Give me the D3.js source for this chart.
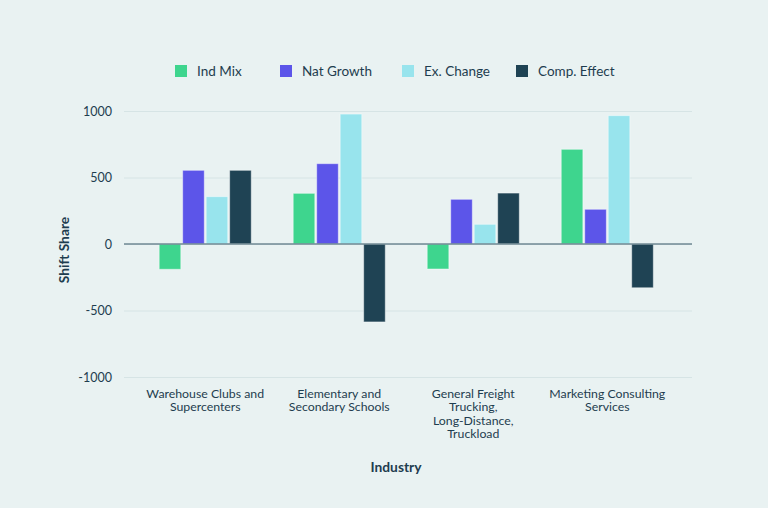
<!DOCTYPE html>
<meta charset="utf-8">
<script src="https://d3js.org/d3.v7.min.js"></script>
<style>
  body { margin: 0; background: #e9f2f2; }
  text { font-family: Lato, "Open Sans", sans-serif; fill: #1e3d4f; }
</style>
<div id="my_dataviz"></div>
<script>

// data
var industries = ["Warehouse Clubs and Supercenters", "Elementary and Secondary Schools",
                  "General Freight Trucking, Long-Distance, Truckload", "Marketing Consulting Services"];
var tickLines = [["Warehouse Clubs and", "Supercenters"],
                 ["Elementary and", "Secondary Schools"],
                 ["General Freight", "Trucking,", "Long-Distance,", "Truckload"],
                 ["Marketing Consulting", "Services"]];
var series = ["Ind Mix", "Nat Growth", "Ex. Change", "Comp. Effect"];
var indMix    = [-190, 381, -188, 712];
var natGrowth = [554, 604, 336, 261];
var exChange  = [356, 977, 148, 965];
var compEffect = [554, -586, 383, -329];
var yTicks = [-1000, -500, 0, 500, 1000];

var colors = ["#3ed58e", "#5c55e9", "#98e4ed", "#1f4354"];

var W = 768, H = 508;
var plotLeft = 124, plotRight = 692, plotTop = 111, plotBottom = 377;

var svg = d3.select("#my_dataviz")
  .append("svg")
    .attr("width", W)
    .attr("height", H);

svg.append("rect").attr("width", W).attr("height", H).attr("fill", "#e9f2f2");

var rows = industries.map(function(d, i) {
  return {name: d, values: [indMix[i], natGrowth[i], exChange[i], compEffect[i]]};
});

// groups sit a little left of the gridline span
var x = d3.scaleBand()
  .domain(industries)
  .range([plotLeft - 1, plotRight - 2.5])
  .paddingInner(0.313)
  .paddingOuter(0.27);

var xSub = d3.scaleBand()
  .domain(series)
  .range([0, x.bandwidth()])
  .paddingInner(0.08);

var y = d3.scaleLinear()
  .domain([-1000, 1000])
  .range([plotBottom, plotTop]);

var color = d3.scaleOrdinal().domain(series).range(colors);

// gridlines + y labels
var yAxis = svg.append("g")
  .attr("transform", "translate(" + plotLeft + ",0)")
  .call(d3.axisLeft(y).tickValues(yTicks).tickSize(-(plotRight - plotLeft)).tickPadding(12)
    .tickFormat(function(d) { return String(d); }));
yAxis.select(".domain").remove();
yAxis.selectAll("line").attr("stroke", "#d6e4e5").attr("stroke-width", 1);
yAxis.selectAll("text").style("font-size", "12.5px").style("fill", "#1e3d4f").style("font-family", "Lato, sans-serif");

// bars
svg.append("g")
  .selectAll("g")
  .data(rows)
  .join("g")
    .attr("transform", function(d) { return "translate(" + x(d.name) + ",0)"; })
  .selectAll("rect")
  .data(function(d) { return series.map(function(key, j) { return {key: key, value: d.values[j]}; }); })
  .join("rect")
    .attr("x", function(d) { return xSub(d.key); })
    .attr("y", function(d) { return y(Math.max(0, d.value)); })
    .attr("width", xSub.bandwidth())
    .attr("height", function(d) { return Math.abs(y(d.value) - y(0)); })
    .attr("fill", function(d) { return color(d.key); })
    .attr("stroke", "#ffffff")
    .attr("stroke-opacity", 0.45)
    .attr("stroke-width", 1);

// zero line
svg.append("line")
  .attr("x1", plotLeft).attr("x2", plotRight)
  .attr("y1", y(0)).attr("y2", y(0))
  .attr("stroke", "#6f8893").attr("stroke-width", 1.3);

// x labels
var xl = svg.append("g")
  .selectAll("text")
  .data(industries)
  .join("text")
    .attr("text-anchor", "middle")
    .attr("x", function(d) { return x(d) + x.bandwidth() / 2; })
    .attr("y", 397.5)
    .style("font-size", "12.3px");
xl.each(function(d, i) {
  var t = d3.select(this);
  tickLines[i].forEach(function(line, k) {
    t.append("tspan")
      .attr("x", x(d) + x.bandwidth() / 2)
      .attr("dy", k === 0 ? 0 : 13.6)
      .text(line);
  });
});

// axis titles
svg.append("text")
  .attr("x", (plotLeft + plotRight) / 2 - 12)
  .attr("y", 472)
  .attr("text-anchor", "middle")
  .style("font-size", "13.8px")
  .style("font-weight", "bold")
  .text("Industry");

svg.append("text")
  .attr("transform", "translate(69,250) rotate(-90)")
  .attr("text-anchor", "middle")
  .style("font-size", "13.8px")
  .style("font-weight", "bold")
  .text("Shift Share");

// legend
var legendX = [175, 280, 402, 516];
var lg = svg.append("g")
  .selectAll("g")
  .data(series)
  .join("g")
    .attr("transform", function(d, i) { return "translate(" + legendX[i] + ",65)"; });
lg.append("rect")
  .attr("width", 12).attr("height", 12)
  .attr("fill", function(d) { return color(d); });
lg.append("text")
  .attr("x", 22).attr("y", 11)
  .style("font-size", "13.5px")
  .text(function(d) { return d; });

</script>
